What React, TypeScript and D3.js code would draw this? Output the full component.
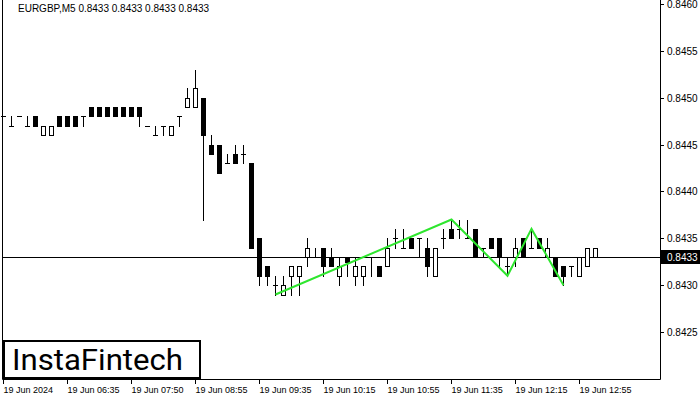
import { useEffect, useRef } from "react";
import * as d3 from "d3";

// EURGBP M5 bars
const opens = [
  0.8448, 0.8447, 0.8448, 0.8447, 0.8448, 0.8446, 0.8446, 0.8448, 0.8448, 0.8448,
  0.8448, 0.8449, 0.8449, 0.8449, 0.8449, 0.8449, 0.8449, 0.8449, 0.8447, 0.8446,
  0.8447, 0.8446, 0.8448, 0.8449, 0.8449, 0.845, 0.8445, 0.8445, 0.8443, 0.8444,
  0.8444, 0.8443, 0.8435, 0.8432, 0.843, 0.8429, 0.8431, 0.8431, 0.8433, 0.8433,
  0.8434, 0.8433, 0.8431, 0.8433, 0.8431, 0.8431, 0.8433, 0.8432, 0.8432, 0.8435,
  0.8434, 0.8435, 0.8435, 0.8434, 0.8431, 0.8435, 0.8436, 0.8436, 0.8435, 0.8436,
  0.8434, 0.8435, 0.8435, 0.8432, 0.8433, 0.8435, 0.8434, 0.8435, 0.8433, 0.8433,
  0.8432, 0.8432, 0.8431, 0.8432, 0.8433,
];
const highs = [
  0.8448, 0.8448, 0.8448, 0.8448, 0.8448, 0.8447, 0.8447, 0.8448, 0.8448, 0.8448,
  0.8448, 0.8449, 0.8449, 0.8449, 0.8449, 0.8449, 0.8449, 0.8449, 0.8447, 0.8447,
  0.8447, 0.8447, 0.8448, 0.8451, 0.8453, 0.845, 0.8446, 0.8445, 0.8444, 0.8445,
  0.8445, 0.8443, 0.8435, 0.8432, 0.8431, 0.8431, 0.8432, 0.8432, 0.8435, 0.8434,
  0.8434, 0.8434, 0.8433, 0.8433, 0.8433, 0.8432, 0.8433, 0.8432, 0.8435, 0.8436,
  0.8436, 0.8435, 0.8435, 0.8435, 0.8434, 0.8436, 0.8437, 0.8437, 0.8437, 0.8436,
  0.8434, 0.8435, 0.8435, 0.8433, 0.8435, 0.8435, 0.8436, 0.8435, 0.8435, 0.8433,
  0.8432, 0.8432, 0.8433, 0.8434, 0.8434,
];
const lows = [
  0.8448, 0.8447, 0.8448, 0.8447, 0.8447, 0.8446, 0.8446, 0.8447, 0.8447, 0.8447,
  0.8447, 0.8448, 0.8448, 0.8448, 0.8448, 0.8448, 0.8448, 0.8447, 0.8447, 0.8446,
  0.8446, 0.8446, 0.8447, 0.8449, 0.8449, 0.8437, 0.8444, 0.8442, 0.8443, 0.8443,
  0.8443, 0.8434, 0.843, 0.843, 0.8429, 0.8429, 0.8429, 0.8429, 0.8432, 0.8433,
  0.8431, 0.8432, 0.843, 0.8431, 0.843, 0.843, 0.8431, 0.8431, 0.8432, 0.8434,
  0.8434, 0.8434, 0.8433, 0.8431, 0.8431, 0.8434, 0.8435, 0.8435, 0.8435, 0.8433,
  0.8433, 0.8434, 0.8432, 0.8431, 0.8432, 0.8433, 0.8434, 0.8434, 0.8433, 0.8431,
  0.843, 0.8431, 0.8431, 0.8432, 0.8433,
];
const closes = [
  0.8448, 0.8447, 0.8448, 0.8447, 0.8447, 0.8447, 0.8447, 0.8447, 0.8447, 0.8447,
  0.8448, 0.8448, 0.8448, 0.8448, 0.8448, 0.8448, 0.8448, 0.8448, 0.8447, 0.8446,
  0.8447, 0.8447, 0.8448, 0.845, 0.8451, 0.8446, 0.8444, 0.8442, 0.8443, 0.8443,
  0.8444, 0.8434, 0.8431, 0.8431, 0.843, 0.843, 0.8432, 0.8432, 0.8434, 0.8433,
  0.8432, 0.8432, 0.8432, 0.84325, 0.8432, 0.8432, 0.8433, 0.8431, 0.8434, 0.8435,
  0.8434, 0.8434, 0.8435, 0.8432, 0.8434, 0.8435, 0.8435, 0.8436, 0.8435, 0.8433,
  0.8434, 0.8434, 0.8433, 0.8432, 0.8434, 0.8433, 0.8434, 0.8434, 0.8434, 0.8431,
  0.8431, 0.8432, 0.8433, 0.8434, 0.8434,
];

// pattern vertices: bar index and price
const patternBars = [34, 56, 63, 66, 70];
const patternPrices = [0.8429, 0.8437, 0.8431, 0.8436, 0.843];

const timeLabels = [
  "19 Jun 2024", "19 Jun 06:35", "19 Jun 07:50", "19 Jun 08:55", "19 Jun 09:35",
  "19 Jun 10:15", "19 Jun 10:55", "19 Jun 11:35", "19 Jun 12:15", "19 Jun 12:55",
];
const priceTicks = [0.8425, 0.843, 0.8435, 0.844, 0.8445, 0.845, 0.8455, 0.846];
const lastPrice = 0.8433;
const header = "EURGBP,M5  0.8433 0.8433 0.8433 0.8433";

const W = 700;
const H = 400;
const FONT = "Liberation Sans, Arial, sans-serif";

export default function App() {
  const svgRef = useRef<SVGSVGElement>(null);

  useEffect(() => {
    if (!svgRef.current) return;
    const svg = d3.select(svgRef.current);
    svg.selectAll("*").remove();

    const plotRight = 660;
    const plotBottom = 379;

    const x = d3.scaleLinear().domain([0, 74]).range([3.5, 595.5]);
    const y = d3.scaleLinear().domain([0.8425, 0.846]).range([332, 4]);
    const py = (p: number) => Math.round(y(p));

    svg.append("rect").attr("width", W).attr("height", H).attr("fill", "#fff");

    // frame
    svg.append("path")
      .attr("d", `M2.5,0 V${plotBottom + 0.5} H${plotRight + 0.5} V0`)
      .attr("fill", "none").attr("stroke", "#000").attr("stroke-width", 1);

    // price ticks
    priceTicks.forEach((p) => {
      const yy = py(p) + 0.5;
      svg.append("line")
        .attr("x1", plotRight).attr("x2", plotRight + 4)
        .attr("y1", yy).attr("y2", yy)
        .attr("stroke", "#000");
      svg.append("text")
        .attr("x", 667).attr("y", yy + 3.5)
        .attr("font-family", FONT).attr("font-size", "10px")
        .attr("fill", "#000")
        .text(p.toFixed(4));
    });

    // time ticks
    timeLabels.forEach((t, i) => {
      const xx = Math.floor(x(i * 8)) + 0.5;
      svg.append("line")
        .attr("x1", xx).attr("x2", xx)
        .attr("y1", plotBottom).attr("y2", plotBottom + 5)
        .attr("stroke", "#000");
      svg.append("text")
        .attr("x", xx).attr("y", 393)
        .attr("font-family", FONT).attr("font-size", "9px")
        .attr("fill", "#000")
        .text(t);
    });

    // bid line
    const ly = py(lastPrice) + 0.5;
    svg.append("line")
      .attr("x1", 3).attr("x2", plotRight)
      .attr("y1", ly).attr("y2", ly)
      .attr("stroke", "#000");

    // candles
    const g = svg.append("g");
    opens.forEach((o, i) => {
      const c = closes[i];
      const cx = Math.floor(x(i)) + 0.5;
      const left = cx - 2.5;
      const yH = py(highs[i]);
      const yL = py(lows[i]);
      if (yL > yH) {
        g.append("line")
          .attr("x1", cx).attr("x2", cx)
          .attr("y1", yH).attr("y2", yL + 1)
          .attr("stroke", "#000");
      }
      const yO = py(o);
      const yC = py(c);
      if (yO === yC) {
        g.append("line")
          .attr("x1", left).attr("x2", left + 5)
          .attr("y1", yO + 0.5).attr("y2", yO + 0.5)
          .attr("stroke", "#000");
      } else if (c > o) {
        g.append("rect")
          .attr("x", left + 0.5).attr("y", yC + 0.5)
          .attr("width", 4).attr("height", yO - yC)
          .attr("fill", "#fff").attr("stroke", "#000");
      } else {
        g.append("rect")
          .attr("x", left).attr("y", yO)
          .attr("width", 5).attr("height", yC - yO + 1)
          .attr("fill", "#000");
      }
    });

    // pattern
    const line = d3.line<number>()
      .x((_, k) => x(patternBars[k]))
      .y((p) => y(p));
    svg.append("path")
      .attr("d", line(patternPrices) ?? "")
      .attr("fill", "none")
      .attr("stroke", "#2ee62e")
      .attr("stroke-width", 2);

    // last price tag
    svg.append("rect")
      .attr("x", 661).attr("y", ly - 7.5)
      .attr("width", 39).attr("height", 14)
      .attr("fill", "#000");
    svg.append("text")
      .attr("x", 667).attr("y", ly + 3.5)
      .attr("font-family", FONT).attr("font-size", "10px")
      .attr("fill", "#fff")
      .text(lastPrice.toFixed(4));

    // header
    svg.append("text")
      .attr("x", 18).attr("y", 12)
      .attr("font-family", FONT).attr("font-size", "10px")
      .attr("fill", "#000")
      .text(header);

    // logo
    svg.append("rect")
      .attr("x", 4).attr("y", 341)
      .attr("width", 196).attr("height", 37)
      .attr("fill", "#fff").attr("stroke", "#000").attr("stroke-width", 2);
    svg.append("text")
      .attr("x", 12).attr("y", 370)
      .attr("font-family", "Roboto, Open Sans, sans-serif")
      .attr("font-size", "29px")
      .attr("fill", "#000")
      .attr("textLength", 171)
      .attr("lengthAdjust", "spacingAndGlyphs")
      .text("InstaFintech");
  }, []);

  return (
    <div style={{ position: "fixed", left: 0, top: 0, width: W, height: H }}>
      <svg ref={svgRef} width={W} height={H} style={{ display: "block" }} />
    </div>
  );
}
